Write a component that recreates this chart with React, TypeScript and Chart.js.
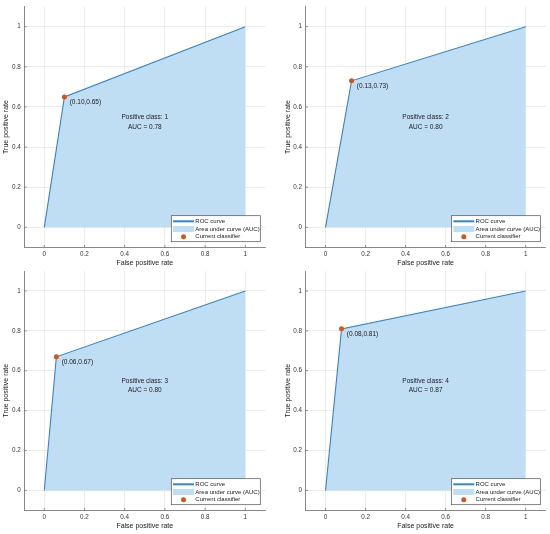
import { useEffect, useRef } from 'react';
import { Chart, registerables } from 'chart.js';

Chart.register(...registerables);

// one panel per positive class
const CLASSES = ['1', '2', '3', '4'];
// operating point of the current classifier
const FPR = [0.10, 0.13, 0.06, 0.08];
const TPR = [0.65, 0.73, 0.67, 0.81];
const AUC = [0.78, 0.80, 0.80, 0.87];
// ROC curve end points
const ROC_START = { x: 0, y: 0 };
const ROC_END = { x: 1, y: 1 };
const AXIS_TICKS = [0, 0.2, 0.4, 0.6, 0.8, 1];
const LEGEND_LABELS = ['ROC curve', 'Area under curve (AUC)', 'Current classifier'];

const FONT = '"Liberation Sans", Arial, Helvetica, sans-serif';
const LINE_COLOR = '#2f86cf';
const FILL_COLOR = '#c0def3';
const POINT_COLOR = '#d95319';
const GRID_COLOR = '#e4e4e4';
const AXIS_COLOR = '#7a7a7a';
const TEXT_COLOR = '#202020';
const TICK_COLOR = '#363636';

// where each panel sits on the page
const FRAMES = [
  { left: 0, top: 0, yW: 24.2, padR: 9.6, padT: 6.6, xH: 19.6, xTitlePad: 0, yTitlePad: 1.8 },
  { left: 275, top: 0, yW: 30.5, padR: 4.3, padT: 6.6, xH: 19.6, xTitlePad: 0, yTitlePad: 8.5 },
  { left: 0, top: 267, yW: 24.2, padR: 9.6, padT: 2.2, xH: 23.6, xTitlePad: 4.1, yTitlePad: 1.8 },
  { left: 275, top: 267, yW: 30.5, padR: 4.3, padT: 2.2, xH: 23.6, xTitlePad: 4.1, yTitlePad: 8.5 },
];

function makeOverlay(index: number) {
  return {
    id: 'rocOverlay' + index,
    afterDatasetsDraw(chart: any) {
      const { ctx, chartArea, scales } = chart;
      const xs = scales.x;
      const ys = scales.y;
      ctx.save();
      // inward tick marks, matlab style
      ctx.strokeStyle = AXIS_COLOR;
      ctx.lineWidth = 0.8;
      AXIS_TICKS.forEach((v) => {
        const px = xs.getPixelForValue(v);
        ctx.beginPath();
        ctx.moveTo(px, chartArea.bottom);
        ctx.lineTo(px, chartArea.bottom - 2.5);
        ctx.stroke();
        const py = ys.getPixelForValue(v);
        ctx.beginPath();
        ctx.moveTo(chartArea.left, py);
        ctx.lineTo(chartArea.left + 2.5, py);
        ctx.stroke();
      });

      ctx.fillStyle = TEXT_COLOR;
      ctx.font = `6.5px ${FONT}`;
      // datatip next to the operating point
      const px = xs.getPixelForValue(FPR[index]);
      const py = ys.getPixelForValue(TPR[index]);
      ctx.textAlign = 'left';
      ctx.textBaseline = 'middle';
      ctx.fillText(`(${FPR[index].toFixed(2)},${TPR[index].toFixed(2)})`, px + 5.3, py + 5.7);

      // class / auc note in the middle
      ctx.textAlign = 'center';
      const cx = xs.getPixelForValue(0.5);
      ctx.fillText(`Positive class: ${CLASSES[index]}`, cx, ys.getPixelForValue(0.55));
      ctx.fillText(`AUC = ${AUC[index].toFixed(2)}`, cx, ys.getPixelForValue(0.5));
      ctx.restore();
    },
    afterDraw(chart: any) {
      const { ctx, chartArea } = chart;
      const w = 89;
      const h = 26;
      const x0 = chartArea.right - 5.1 - w;
      const y0 = chartArea.bottom - 5.7 - h;
      ctx.save();
      ctx.fillStyle = '#ffffff';
      ctx.fillRect(x0, y0, w, h);
      ctx.strokeStyle = '#505050';
      ctx.lineWidth = 0.7;
      ctx.strokeRect(x0, y0, w, h);

      const rows = [y0 + 5.6, y0 + 13.3, y0 + 21];
      const sx0 = x0 + 1.7;
      const sx1 = x0 + 22.7;
      // ROC curve sample
      ctx.strokeStyle = LINE_COLOR;
      ctx.lineWidth = 2;
      ctx.beginPath();
      ctx.moveTo(sx0, rows[0]);
      ctx.lineTo(sx1, rows[0]);
      ctx.stroke();
      // area sample
      ctx.fillStyle = FILL_COLOR;
      ctx.fillRect(sx0, rows[1] - 3, sx1 - sx0, 6);
      // point sample
      ctx.fillStyle = POINT_COLOR;
      ctx.beginPath();
      ctx.arc((sx0 + sx1) / 2, rows[2], 2.5, 0, Math.PI * 2);
      ctx.fill();

      ctx.fillStyle = TEXT_COLOR;
      ctx.font = `6px ${FONT}`;
      ctx.textAlign = 'left';
      ctx.textBaseline = 'middle';
      chart.data.datasets.forEach((ds: any, i: number) => {
        ctx.fillText(ds.label, x0 + 24, rows[i]);
      });
      ctx.restore();
    },
  };
}

function RocPanel({ index }: { index: number }) {
  const canvasRef = useRef<HTMLCanvasElement>(null);
  const frame = FRAMES[index];

  useEffect(() => {
    if (!canvasRef.current) return;
    const curve = [ROC_START, { x: FPR[index], y: TPR[index] }, ROC_END];

    const axisCommon = (titleText: string) => ({
      type: 'linear' as const,
      min: -0.1,
      max: 1.1,
      afterBuildTicks: (s: any) => {
        s.ticks = AXIS_TICKS.map((v) => ({ value: v }));
      },
      ticks: {
        font: { family: FONT, size: 6.3 },
        color: TICK_COLOR,
        padding: 3.5,
        maxRotation: 0,
        autoSkip: false,
        callback: (v: any) => String(v),
      },
      grid: { color: GRID_COLOR, lineWidth: 0.7, drawTicks: false },
      border: { display: true, color: AXIS_COLOR, width: 0.9 },
      title: {
        display: true,
        text: titleText,
        color: TEXT_COLOR,
        font: { family: FONT, size: 7 },
      },
    });

    const xAxis: any = axisCommon('False positive rate');
    xAxis.title.padding = { top: 0, bottom: frame.xTitlePad };
    xAxis.afterFit = (s: any) => {
      s.height = frame.xH;
      s.paddingLeft = 0;
      s.paddingRight = 0;
    };
    const yAxis: any = axisCommon('True positive rate');
    yAxis.title.padding = { top: frame.yTitlePad, bottom: 0 };
    yAxis.afterFit = (s: any) => {
      s.width = frame.yW;
      s.paddingTop = 0;
      s.paddingBottom = 0;
    };

    const chart = new Chart(canvasRef.current, {
      type: 'line',
      data: {
        datasets: [
          {
            label: LEGEND_LABELS[0],
            data: curve,
            borderColor: LINE_COLOR,
            borderWidth: 1.1,
            pointRadius: 0,
            fill: false,
            tension: 0,
            order: 1,
          },
          {
            label: LEGEND_LABELS[1],
            data: curve,
            borderColor: 'rgba(0,0,0,0)',
            borderWidth: 0,
            backgroundColor: FILL_COLOR,
            pointRadius: 0,
            fill: 'origin',
            tension: 0,
            order: 2,
          },
          {
            type: 'scatter',
            label: LEGEND_LABELS[2],
            data: [{ x: FPR[index], y: TPR[index] }],
            backgroundColor: POINT_COLOR,
            borderColor: POINT_COLOR,
            pointRadius: 2.5,
            borderWidth: 0,
            order: 0,
          } as any,
        ],
      },
      options: {
        animation: false,
        responsive: true,
        maintainAspectRatio: false,
        events: [],
        layout: { padding: { left: 0, right: frame.padR, top: frame.padT, bottom: 0 } },
        plugins: {
          legend: { display: false },
          tooltip: { enabled: false },
        },
        scales: { x: xAxis, y: yAxis },
      },
      plugins: [makeOverlay(index)],
    });

    return () => {
      chart.destroy();
    };
  }, [index]);

  return (
    <div
      style={{
        position: 'absolute',
        left: frame.left,
        top: frame.top,
        width: 275,
        height: 267,
      }}
    >
      <canvas ref={canvasRef} />
    </div>
  );
}

export default function App() {
  return (
    <div
      style={{
        position: 'absolute',
        left: 0,
        top: 0,
        width: 550,
        height: 534,
        background: '#ffffff',
        overflow: 'hidden',
      }}
    >
      {CLASSES.map((c, i) => (
        <RocPanel key={c} index={i} />
      ))}
    </div>
  );
}
